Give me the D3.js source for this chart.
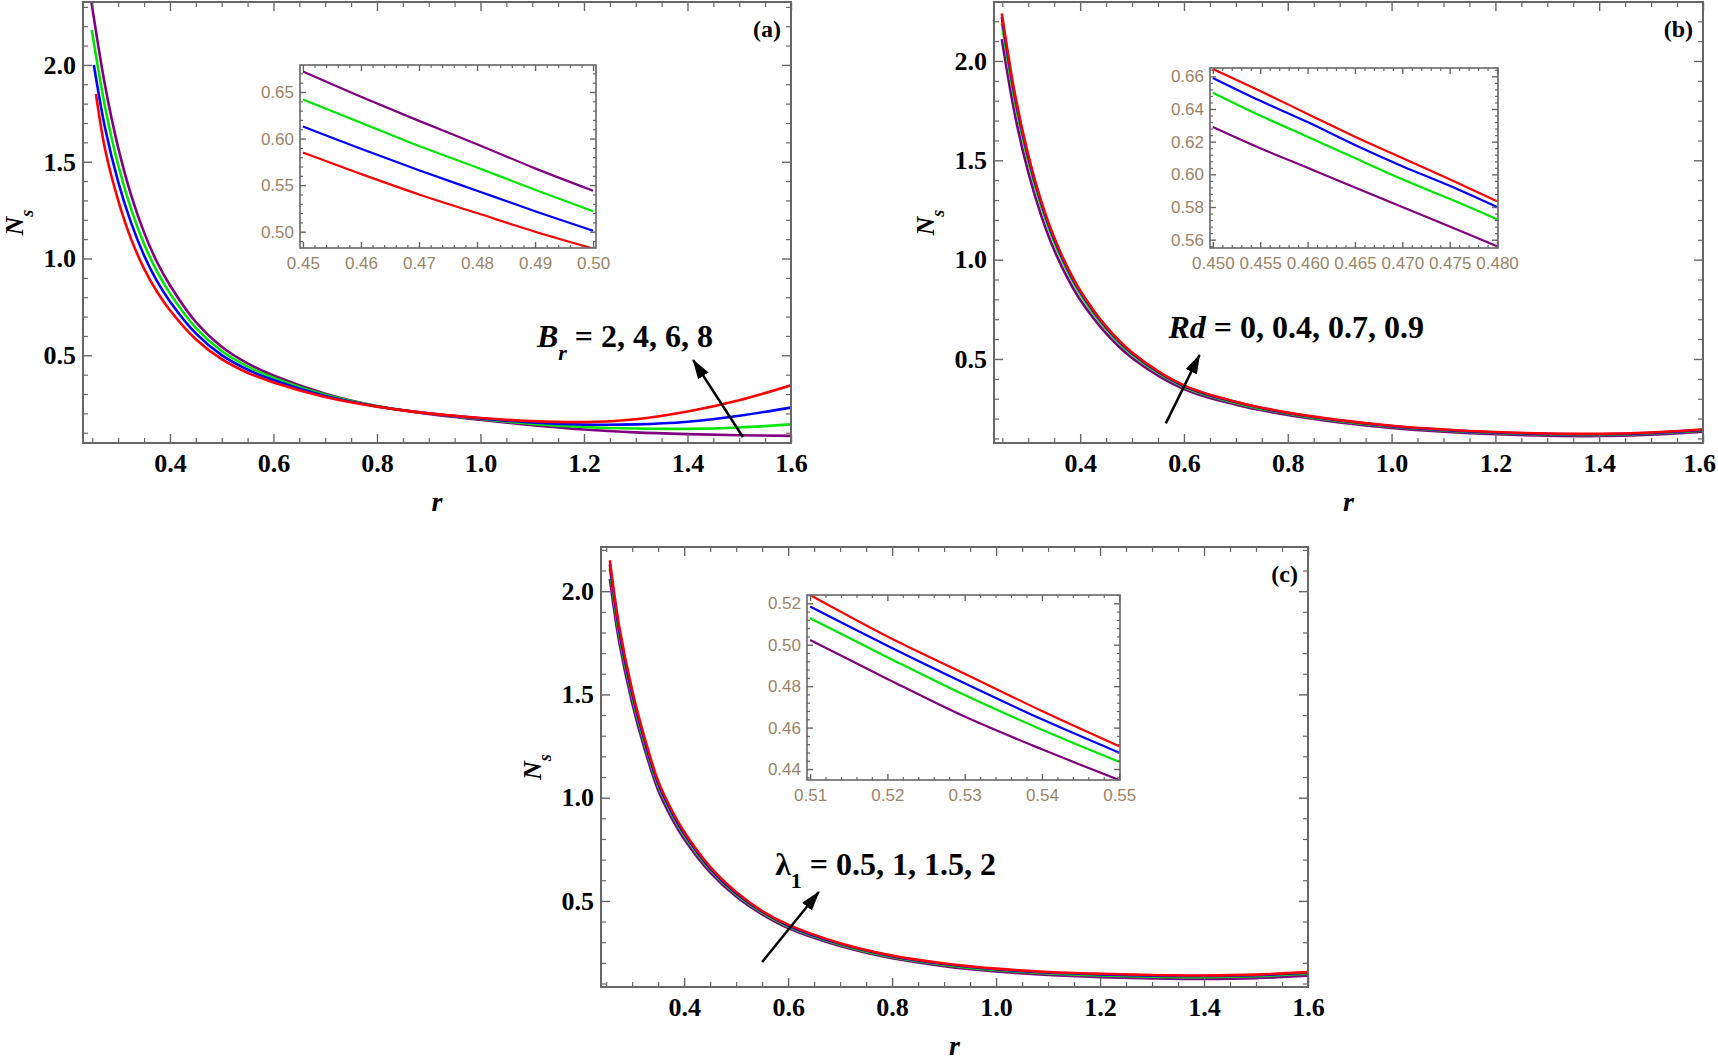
<!DOCTYPE html>
<html>
<head>
<meta charset="utf-8">
<script src="https://cdn.jsdelivr.net/npm/d3@7"></script>
<style>
    body { margin: 0; background: #fff; }
    svg { display: block; }
    .big-tick text { font-family: "Liberation Serif", "Times New Roman", serif; font-weight: bold; font-size: 26px; fill: #000; }
    .small-tick text { font-family: "Liberation Sans", Arial, sans-serif; font-size: 17px; fill: #9a8468; }
    .title { font-family: "Liberation Serif", serif; font-weight: bold; font-style: italic; }
    .note { font-family: "Liberation Serif", serif; font-weight: bold; font-size: 32px; }
</style>
</head>
<body>
<div id="chart"></div>
<script>
// ---- data ------------------------------------------------------------------
// series order: red, blue, green, purple
const seriesColors = ["#ff0000", "#0000ff", "#00e600", "#800080"];

// panel (a): B_r = 2, 4, 6, 8  (each curve starts at its own r)
const aStartR = [0.257, 0.253, 0.249, 0.244];
const aStartV = [1.85, 2.0, 2.18, 2.40];
const rA = [0.275, 0.3, 0.325, 0.35, 0.375, 0.4, 0.45, 0.5, 0.55, 0.6, 0.7, 0.8, 0.9, 1.0, 1.1, 1.2, 1.3, 1.4, 1.5, 1.6];
const aRed    = [1.56, 1.30, 1.10, 0.948, 0.828, 0.733, 0.583, 0.48, 0.41, 0.36, 0.285, 0.235, 0.20, 0.176, 0.16, 0.155, 0.17, 0.21, 0.268, 0.345];
const aBlue   = [1.67, 1.396, 1.184, 1.016, 0.883, 0.778, 0.613, 0.501, 0.426, 0.372, 0.29, 0.236, 0.20, 0.174, 0.153, 0.142, 0.143, 0.157, 0.188, 0.23];
const aGreen  = [1.778, 1.483, 1.255, 1.075, 0.933, 0.82, 0.642, 0.522, 0.442, 0.384, 0.296, 0.237, 0.199, 0.171, 0.146, 0.13, 0.122, 0.12, 0.127, 0.143];
const aPurple = [1.888, 1.573, 1.328, 1.135, 0.982, 0.862, 0.672, 0.544, 0.458, 0.396, 0.302, 0.238, 0.197, 0.167, 0.139, 0.117, 0.102, 0.093, 0.087, 0.084];

// inset (a)
const iaR = [0.45, 0.46, 0.47, 0.48, 0.49, 0.50];
const iaRed    = [0.585, 0.562, 0.540, 0.520, 0.500, 0.482];
const iaBlue   = [0.613, 0.589, 0.566, 0.544, 0.522, 0.501];
const iaGreen  = [0.642, 0.617, 0.592, 0.569, 0.545, 0.522];
const iaPurple = [0.672, 0.645, 0.619, 0.594, 0.568, 0.544];

// panel (b): Rd = 0, 0.4, 0.7, 0.9
const rB = [0.249, 0.275, 0.3, 0.325, 0.35, 0.375, 0.4, 0.45, 0.5, 0.6, 0.7, 0.8, 0.9, 1.0, 1.1, 1.2, 1.3, 1.4, 1.5, 1.6];
const bRed    = [2.24, 1.824, 1.527, 1.295, 1.111, 0.965, 0.845, 0.664, 0.533, 0.367, 0.285, 0.23, 0.192, 0.164, 0.145, 0.132, 0.125, 0.123, 0.13, 0.145];
const bBlue   = [2.222, 1.81, 1.515, 1.285, 1.102, 0.957, 0.838, 0.659, 0.529, 0.364, 0.283, 0.228, 0.19, 0.162, 0.143, 0.13, 0.123, 0.121, 0.128, 0.143];
const bGreen  = [2.19, 1.784, 1.493, 1.266, 1.086, 0.943, 0.826, 0.650, 0.521, 0.359, 0.279, 0.225, 0.187, 0.159, 0.14, 0.127, 0.12, 0.118, 0.125, 0.14];
const bPurple = [2.11, 1.72, 1.44, 1.222, 1.048, 0.911, 0.798, 0.629, 0.505, 0.348, 0.27, 0.218, 0.181, 0.153, 0.134, 0.121, 0.114, 0.112, 0.119, 0.134];

// inset (b)
const ibR = [0.450, 0.455, 0.460, 0.465, 0.470, 0.475, 0.480];
const ibRed    = [0.6645, 0.651, 0.637, 0.623, 0.610, 0.597, 0.5835];
const ibBlue   = [0.659, 0.645, 0.632, 0.618, 0.605, 0.593, 0.580];
const ibGreen  = [0.650, 0.636, 0.623, 0.610, 0.597, 0.585, 0.5725];
const ibPurple = [0.629, 0.616, 0.604, 0.592, 0.580, 0.568, 0.556];

// panel (c): lambda_1 = 0.5, 1, 1.5, 2
const rC = [0.257, 0.275, 0.3, 0.325, 0.35, 0.375, 0.4, 0.45, 0.5, 0.55, 0.6, 0.7, 0.8, 0.9, 1.0, 1.1, 1.2, 1.3, 1.4, 1.5, 1.6];
const cRed    = [2.15, 1.83, 1.52, 1.28, 1.08, 0.945, 0.835, 0.665, 0.543, 0.451, 0.385, 0.295, 0.235, 0.197, 0.172, 0.156, 0.147, 0.141, 0.139, 0.143, 0.155];
const cBlue   = [2.13, 1.81, 1.504, 1.266, 1.068, 0.935, 0.826, 0.658, 0.537, 0.448, 0.381, 0.292, 0.232, 0.194, 0.169, 0.153, 0.144, 0.138, 0.136, 0.14, 0.152];
const cGreen  = [2.11, 1.79, 1.488, 1.253, 1.057, 0.925, 0.817, 0.651, 0.531, 0.4435, 0.376, 0.288, 0.228, 0.19, 0.165, 0.149, 0.139, 0.133, 0.131, 0.135, 0.147];
const cPurple = [2.06, 1.755, 1.458, 1.227, 1.036, 0.906, 0.80, 0.638, 0.521, 0.4347, 0.368, 0.281, 0.222, 0.184, 0.158, 0.141, 0.131, 0.125, 0.122, 0.126, 0.138];

// inset (c)
const icR = [0.51, 0.52, 0.53, 0.54, 0.55];
const icRed    = [0.524, 0.504, 0.486, 0.468, 0.451];
const icBlue   = [0.5184, 0.4995, 0.4814, 0.464, 0.4479];
const icGreen  = [0.5128, 0.494, 0.4757, 0.459, 0.4435];
const icPurple = [0.5023, 0.4835, 0.4653, 0.4495, 0.4347];

// tick labels
const mainXTicks = [0.4, 0.6, 0.8, 1.0, 1.2, 1.4, 1.6];
const mainYTicks = [0.5, 1.0, 1.5, 2.0];
const iaXTicks = [0.45, 0.46, 0.47, 0.48, 0.49, 0.50];
const iaYTicks = [0.50, 0.55, 0.60, 0.65];
const ibXTicks = [0.450, 0.455, 0.460, 0.465, 0.470, 0.475, 0.480];
const ibYTicks = [0.56, 0.58, 0.60, 0.62, 0.64, 0.66];
const icXTicks = [0.51, 0.52, 0.53, 0.54, 0.55];
const icYTicks = [0.44, 0.46, 0.48, 0.50, 0.52];

// ---- build ---------------------------------------------------------------------
const width = 1718, height = 1063;

const svg = d3.select("#chart")
    .append("svg")
    .attr("width", width)
    .attr("height", height);

svg.append("rect").attr("width", width).attr("height", height).attr("fill", "#fff");

const defs = svg.append("defs");
defs.append("marker")
    .attr("id", "head")
    .attr("viewBox", "0 0 16 10")
    .attr("refX", 15)
    .attr("refY", 5)
    .attr("markerWidth", 8)
    .attr("markerHeight", 5)
    .attr("orient", "auto")
    .append("path")
    .attr("d", "M0,0 L16,5 L0,10 Z")
    .attr("fill", "#000");

let clipCount = 0;

function zip(xs, ys) {
    return xs.map((r, i) => ({ r: r, v: ys[i] }));
}

// minor tick values between the majors
function minors(domain, step, majors) {
    let out = [];
    let s = Math.ceil(domain[0] / step - 1e-9),
        e = Math.floor(domain[1] / step + 1e-9);
    for (let k = s; k <= e; k++) {
        let v = +(k * step).toFixed(6);
        if (!majors.some(m => Math.abs(m - v) < step / 10)) out.push(v);
    }
    return out;
}

// frame with inward ticks on all four sides, labels bottom and left
function frame(g, x, y, o) {
    const [x0, x1] = x.range(), [y0, y1] = y.range();
    const xMinor = minors(x.domain(), o.xMinorStep, o.xTicks),
        yMinor = minors(y.domain(), o.yMinorStep, o.yTicks);

    const sides = [
        { axis: d3.axisBottom, sc: x, pos: `translate(0,${y0})`, ticks: o.xTicks, minor: xMinor, label: true, fmt: o.xFmt, pad: o.xPad },
        { axis: d3.axisTop, sc: x, pos: `translate(0,${y1})`, ticks: o.xTicks, minor: xMinor, label: false },
        { axis: d3.axisLeft, sc: y, pos: `translate(${x0},0)`, ticks: o.yTicks, minor: yMinor, label: true, fmt: o.yFmt, pad: o.yPad },
        { axis: d3.axisRight, sc: y, pos: `translate(${x1},0)`, ticks: o.yTicks, minor: yMinor, label: false }
    ];

    for (let s of sides) {
        let major = g.append("g")
            .attr("class", o.cls)
            .attr("transform", s.pos)
            .call(s.axis(s.sc)
                .tickValues(s.ticks)
                .tickSizeInner(-o.major)
                .tickSizeOuter(0)
                .tickPadding(s.label ? s.pad : 0)
                .tickFormat(s.label ? d3.format(s.fmt) : ""));
        major.select(".domain").remove();
        major.selectAll("line").attr("stroke", o.tickColor).attr("stroke-width", 1.4);

        let minor = g.append("g")
            .attr("transform", s.pos)
            .call(s.axis(s.sc)
                .tickValues(s.minor)
                .tickSizeInner(-o.minor)
                .tickSizeOuter(0)
                .tickFormat(""));
        minor.select(".domain").remove();
        minor.selectAll("line").attr("stroke", o.tickColor).attr("stroke-width", 1.2);
    }

    g.append("rect")
        .attr("x", x0).attr("y", y1)
        .attr("width", x1 - x0).attr("height", y0 - y1)
        .attr("fill", "none")
        .attr("stroke", o.frameColor)
        .attr("stroke-width", o.frameWidth);
}

function curves(g, x, y, series, lw) {
    const id = "clip" + (clipCount++);
    g.append("clipPath").attr("id", id)
        .append("rect")
        .attr("x", x.range()[0]).attr("y", y.range()[1])
        .attr("width", x.range()[1] - x.range()[0])
        .attr("height", y.range()[0] - y.range()[1]);

    const line = d3.line()
        .x(d => x(d.r))
        .y(d => y(d.v))
        .curve(d3.curveCatmullRom.alpha(0.5));

    // purple first, red on top
    const order = [3, 2, 1, 0];
    g.append("g")
        .attr("clip-path", `url(#${id})`)
        .selectAll("path")
        .data(order.map(i => ({ pts: series[i], color: seriesColors[i] })))
        .join("path")
        .attr("d", d => line(d.pts))
        .attr("fill", "none")
        .attr("stroke", d => d.color)
        .attr("stroke-width", lw)
        .attr("stroke-linejoin", "round");
}

function drawPanel(p) {
    const g = svg.append("g");

    let x = d3.scaleLinear().domain(p.xDomain).range([p.box[0], p.box[1]]);
    let y = d3.scaleLinear().domain(p.yDomain).range([p.box[3], p.box[2]]);

    curves(g, x, y, p.series, 2.6);

    frame(g, x, y, {
        cls: "big-tick", xTicks: mainXTicks, yTicks: mainYTicks,
        xMinorStep: 0.05, yMinorStep: 0.1, xFmt: ".1f", yFmt: ".1f",
        xPad: 11, yPad: 7, major: 9, minor: 5,
        tickColor: "#666", frameColor: "#666", frameWidth: 2
    });

    // keep the last x label inside the page
    g.selectAll(".big-tick text").each(function () {
        const b = this.getBBox(), m = this.getCTM();
        const right = m.e + b.x + b.width;
        if (right > width - 2) d3.select(this).attr("dx", width - 2 - right);
    });

    // inset
    const ig = g.append("g");
    let ix = d3.scaleLinear().domain(p.inset.xDomain).range([p.inset.box[0], p.inset.box[1]]);
    let iy = d3.scaleLinear().domain(p.inset.yDomain).range([p.inset.box[3], p.inset.box[2]]);
    ig.append("rect")
        .attr("x", p.inset.box[0]).attr("y", p.inset.box[2])
        .attr("width", p.inset.box[1] - p.inset.box[0])
        .attr("height", p.inset.box[3] - p.inset.box[2])
        .attr("fill", "#fff");
    curves(ig, ix, iy, p.inset.series, 2.2);
    frame(ig, ix, iy, {
        cls: "small-tick", xTicks: p.inset.xTicks, yTicks: p.inset.yTicks,
        xMinorStep: p.inset.xMinorStep, yMinorStep: p.inset.yMinorStep,
        xFmt: p.inset.xFmt, yFmt: ".2f",
        xPad: 9, yPad: 6, major: 6, minor: 3,
        tickColor: "#666", frameColor: "#666", frameWidth: 1.6
    });

    // axis titles
    g.append("text")
        .attr("class", "title")
        .attr("x", (p.box[0] + p.box[1]) / 2)
        .attr("y", p.box[3] + 68)
        .attr("text-anchor", "middle")
        .attr("font-size", 28)
        .text("r");

    const ny = (p.box[2] + p.box[3]) / 2;
    const nt = g.append("text")
        .attr("class", "title")
        .attr("font-size", 26)
        .attr("text-anchor", "middle")
        .attr("transform", `translate(${p.box[0] - 60},${ny}) rotate(-90)`);
    nt.append("tspan").text("N");
    nt.append("tspan").text("s").attr("font-size", 18).attr("baseline-shift", "sub");

    // panel tag
    g.append("text")
        .attr("x", p.box[1] - 10)
        .attr("y", p.box[2] + 35)
        .attr("text-anchor", "end")
        .attr("font-family", "Liberation Serif, serif")
        .attr("font-weight", "bold")
        .attr("font-size", 24)
        .text(p.tag);

    // annotation + arrow
    const t = g.append("text")
        .attr("class", "note")
        .attr("x", x(p.noteAt[0]))
        .attr("y", y(p.noteAt[1]));
    for (let part of p.note) {
        t.append("tspan")
            .text(part.t)
            .attr("font-style", part.i ? "italic" : null)
            .attr("font-size", part.sub ? 22 : null)
            .attr("baseline-shift", part.sub ? "sub" : null);
    }

    g.append("line")
        .attr("x1", x(p.arrow[0][0])).attr("y1", y(p.arrow[0][1]))
        .attr("x2", x(p.arrow[1][0])).attr("y2", y(p.arrow[1][1]))
        .attr("stroke", "#000")
        .attr("stroke-width", 2.5)
        .attr("marker-end", "url(#head)");
}

// panel (a)
drawPanel({
    tag: "(a)",
    box: [83, 791, 2, 443],
    xDomain: [0.232, 1.6], yDomain: [0.047, 2.325],
    series: [
        [{ r: aStartR[0], v: aStartV[0] }, ...zip(rA, aRed)],
        [{ r: aStartR[1], v: aStartV[1] }, ...zip(rA, aBlue)],
        [{ r: aStartR[2], v: aStartV[2] }, ...zip(rA, aGreen)],
        [{ r: aStartR[3], v: aStartV[3] }, ...zip(rA, aPurple)]
    ],
    inset: {
        box: [300, 596, 65, 248],
        xDomain: [0.4495, 0.5005], yDomain: [0.4825, 0.679],
        xTicks: iaXTicks, yTicks: iaYTicks, xMinorStep: 0.002, yMinorStep: 0.01, xFmt: ".2f",
        series: [zip(iaR, iaRed), zip(iaR, iaBlue), zip(iaR, iaGreen), zip(iaR, iaPurple)]
    },
    note: [{ t: "B", i: true }, { t: "r", i: true, sub: true }, { t: " = 2, 4, 6, 8" }],
    noteAt: [1.109, 0.542],
    arrow: [[1.507, 0.078], [1.411, 0.475]]
});

// panel (b)
drawPanel({
    tag: "(b)",
    box: [994, 1703, 2, 443],
    xDomain: [0.234, 1.6], yDomain: [0.077, 2.297],
    series: [zip(rB, bRed), zip(rB, bBlue), zip(rB, bGreen), zip(rB, bPurple)],
    inset: {
        box: [1210, 1498, 68, 248],
        xDomain: [0.4497, 0.4801], yDomain: [0.5549, 0.6651],
        xTicks: ibXTicks, yTicks: ibYTicks, xMinorStep: 0.001, yMinorStep: 0.004, xFmt: ".3f",
        series: [zip(ibR, ibRed), zip(ibR, ibBlue), zip(ibR, ibGreen), zip(ibR, ibPurple)]
    },
    note: [{ t: "Rd", i: true }, { t: " = 0, 0.4, 0.7, 0.9" }],
    noteAt: [0.570, 0.604],
    arrow: [[0.565, 0.176], [0.630, 0.520]]
});

// panel (c)
drawPanel({
    tag: "(c)",
    box: [601, 1308, 547, 987],
    xDomain: [0.240, 1.6], yDomain: [0.083, 2.214],
    series: [zip(rC, cRed), zip(rC, cBlue), zip(rC, cGreen), zip(rC, cPurple)],
    inset: {
        box: [807, 1120, 595, 780],
        xDomain: [0.5096, 0.5501], yDomain: [0.4347, 0.524],
        xTicks: icXTicks, yTicks: icYTicks, xMinorStep: 0.002, yMinorStep: 0.004, xFmt: ".2f",
        series: [zip(icR, icRed), zip(icR, icBlue), zip(icR, icGreen), zip(icR, icPurple)]
    },
    note: [{ t: "λ" }, { t: "1", sub: true }, { t: " = 0.5, 1, 1.5, 2" }],
    noteAt: [0.575, 0.625],
    arrow: [[0.550, 0.204], [0.659, 0.543]]
});
</script>
</body>
</html>
